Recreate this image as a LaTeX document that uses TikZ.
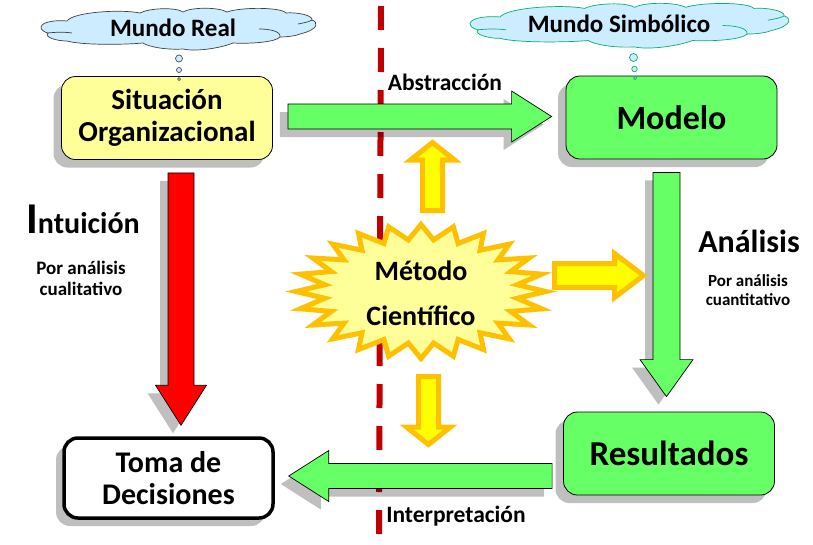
\documentclass[tikz,border=0pt]{standalone}
\usepackage{fontspec}
\setmainfont{Carlito}
\usetikzlibrary{calc, shadows}

\definecolor{boxyellow}{HTML}{FFFF99}
\definecolor{boxgreen}{HTML}{66FF66}
\definecolor{pureyellow}{HTML}{FFFF00}
\definecolor{amber}{HTML}{FFC000}
\definecolor{skyblue}{HTML}{CCECFF}
\definecolor{dashred}{HTML}{C00000}
\definecolor{tealline}{HTML}{00B070}

\tikzset{
  boxshadow/.style={drop shadow={shadow xshift=-8pt,shadow yshift=-8pt,fill=black,opacity=.25}},
  modelbox/.style={draw=black,line width=.8pt,rounded corners=14pt,minimum width=211pt,minimum height=83pt,
    align=center,boxshadow},
  arrowshadow/.style={transform canvas={shift={(-8,8)}},fill=black,opacity=.25,draw=none},
  greenarrow/.style={fill=boxgreen,draw=black,line width=.7pt},
  redarrow/.style={fill=red,draw=black,line width=.7pt},
  yellowarrow/.style={fill=pureyellow,draw=amber,line width=5pt,miter limit=10},
  bubble/.style={circle,draw=black!70,fill=skyblue,line width=.7pt,inner sep=0pt},
  tealbubble/.style={bubble,draw=tealline},
  cloudline/.style={fill=skyblue,draw=black!75,line width=.7pt},
  label/.style={font=\bfseries\fontsize{25}{29}\selectfont},
  small/.style={font=\bfseries\fontsize{19}{21}\selectfont,align=center}
}

% block arrow: style, from, to, half shaft, half head, head length
\newcommand{\blockarrow}[6]{
  \draw[#1] ($(#2)!#4!90:(#3)$) -- ($(#3)!#6!(#2)!#4!90:(#3)$) -- ($(#3)!#6!(#2)!#5!90:(#3)$) -- (#3)
    -- ($(#3)!#6!(#2)!#5!-90:(#3)$) -- ($(#3)!#6!(#2)!#4!-90:(#3)$) -- ($(#2)!#4!-90:(#3)$) -- cycle;
}
\newcommand{\shadedarrow}[6]{
  \blockarrow{arrowshadow}{#2}{#3}{#4}{#5}{#6}
  \blockarrow{#1}{#2}{#3}{#4}{#5}{#6}
}
\newcommand{\cloudoutline}[1]{
  \draw[#1] (0,20) .. controls (1,14) and (18,13) .. (26,14)
    .. controls (32,5) and (80,2) .. (99,6)
    .. controls (108,1) and (135,0) .. (142,5)
    .. controls (150,0) and (178,0) .. (186,5)
    .. controls (200,0) and (240,0) .. (245,6)
    .. controls (255,5) and (272,8) .. (271,13)
    .. controls (277,15) and (279,22) .. (259,27)
    .. controls (255,29) and (245,30) .. (239,30)
    .. controls (235,35) and (210,37) .. (192,36)
    .. controls (180,41) and (155,45) .. (142,42)
    .. controls (125,43) and (108,40) .. (102,36)
    .. controls (80,38) and (40,38) .. (26,34)
    .. controls (15,34) and (3,30) .. (7,26)
    .. controls (3,25) and (0,23) .. (0,20) -- cycle;
  \draw[#1,fill=none] (7,26) .. controls (15,25) and (25,25) .. (31,26);
  \draw[#1,fill=none] (218,22) .. controls (228,22) and (240,24) .. (239,30);
  \draw[#1,fill=none] (257,17) .. controls (262,16) and (268,15) .. (271,13);
}

\begin{document}
\begin{tikzpicture}[x=1pt,y=-1pt]
  \useasboundingbox (0,0) rectangle (813,544);

  \coordinate (dashtop) at (381,6);
  \coordinate (dashend) at (379,536);
  \draw[dashred,line width=6pt,dash pattern=on 24pt off 18pt] (dashtop) -- (dashend);

  % clouds
  \begin{scope}[shift={(41,7)}]
    \cloudoutline{cloudline}
  \end{scope}
  \begin{scope}[shift={(470,2)},xscale=1.159,yscale=1.07]
    \cloudoutline{cloudline,draw=tealline}
  \end{scope}
  \node[label] (real) at (173,28) {Mundo Real};
  \node[label] (simbolico) at (619,24) {Mundo Simbólico};

  % boxes
  \node[modelbox,fill=boxyellow,font=\bfseries\fontsize{29}{32}\selectfont] (situacion) at (167,118) {Situación\\Organizacional};
  \node[modelbox,fill=boxgreen,font=\bfseries\fontsize{34}{42}\selectfont] (modelo) at (671.5,117.5) {Modelo};
  \node[modelbox,fill=boxgreen,font=\bfseries\fontsize{35}{42}\selectfont] (resultados) at (669,453.5) {Resultados};
  \node[modelbox,fill=white,line width=3.5pt,minimum width=209pt,minimum height=80pt,font=\bfseries\fontsize{30}{32}\selectfont] (toma) at (168.5,478) {Toma de\\Decisiones};

  \node[bubble,minimum size=7pt] (realA) at (179,58.5) {};
  \node[bubble,minimum size=5pt] (realB) at (179,70) {};
  \node[bubble,minimum size=3pt] (realC) at (179,79) {};
  \node[tealbubble,minimum size=8pt] (simA) at (633.5,57.5) {};
  \node[tealbubble,minimum size=5.5pt] (simB) at (634.5,69) {};
  \node[tealbubble,minimum size=3pt] (simC) at (635,78) {};

  % main arrows
  \coordinate (absA) at ($(situacion.east)+(15,-1.5)$);
  \coordinate (absB) at ($(modelo.west)+(-14,-1)$);
  \coordinate (intuA) at ($(situacion.south)+(14,13)$);
  \coordinate (intuB) at ($(toma.north)+(12.5,-11)$);
  \coordinate (anaA) at ($(modelo.south)+(-5,13)$);
  \coordinate (anaB) at ($(resultados.north)+(-2.5,-15)$);
  \coordinate (intA) at ($(resultados.west)+(-11,22.5)$);
  \coordinate (intB) at ($(toma.east)+(14,-2)$);
  \shadedarrow{greenarrow}{absA}{absB}{12.5pt}{25.5pt}{40pt}
  \shadedarrow{redarrow}{intuA}{intuB}{13pt}{25.5pt}{40pt}
  \shadedarrow{greenarrow}{anaA}{anaB}{13.5pt}{26.5pt}{37pt}
  \shadedarrow{greenarrow}{intA}{intB}{12.5pt}{25.5pt}{40pt}

  % burst in the middle
  \draw[fill=boxyellow,draw=amber,line width=5pt,miter limit=10]
    plot[samples at={0,...,47},variable=\k]
      ({421+ifthenelse(mod(\k,2)==0,125,97)*sin(\k*7.5)},{291.5+ifthenelse(mod(\k,2)==0,67,52)*cos(\k*7.5)}) -- cycle;
  \node[font=\bfseries\fontsize{28}{45}\selectfont,align=center] (metodo) at (421,293) {Método\\Científico};

  \coordinate (upA) at (432.5,210.5);
  \coordinate (upB) at (432.5,142.5);
  \coordinate (rightA) at (554.5,275.5);
  \coordinate (rightB) at (643.5,275.5);
  \coordinate (downA) at (428.5,376.5);
  \coordinate (downB) at (428.5,444.5);
  \blockarrow{yellowarrow}{upA}{upB}{10pt}{22pt}{17.5pt}
  \blockarrow{yellowarrow}{rightA}{rightB}{12pt}{22pt}{29pt}
  \blockarrow{yellowarrow}{downA}{downB}{10pt}{22pt}{17.5pt}

  % labels
  \node[font=\bfseries\fontsize{23.5}{27}\selectfont] (abstraccion) at (445,82) {Abstracción};
  \node[font=\bfseries\fontsize{23.5}{27}\selectfont] (interpretacion) at (456,516) {Interpretación};
  \node[font=\bfseries\fontsize{30}{34}\selectfont] (intuicion) at (83,219) {{\fontsize{44}{44}\selectfont I}ntuición};
  \node[small] (cualitativo) at (81,278) {Por análisis\\cualitativo};
  \node[font=\bfseries\fontsize{32}{34}\selectfont] (analisis) at (749,241) {Análisis};
  \node[font=\bfseries\fontsize{17}{19}\selectfont,align=center] (cuantitativo) at (748,290) {Por análisis\\cuantitativo};
\end{tikzpicture}
\end{document}
